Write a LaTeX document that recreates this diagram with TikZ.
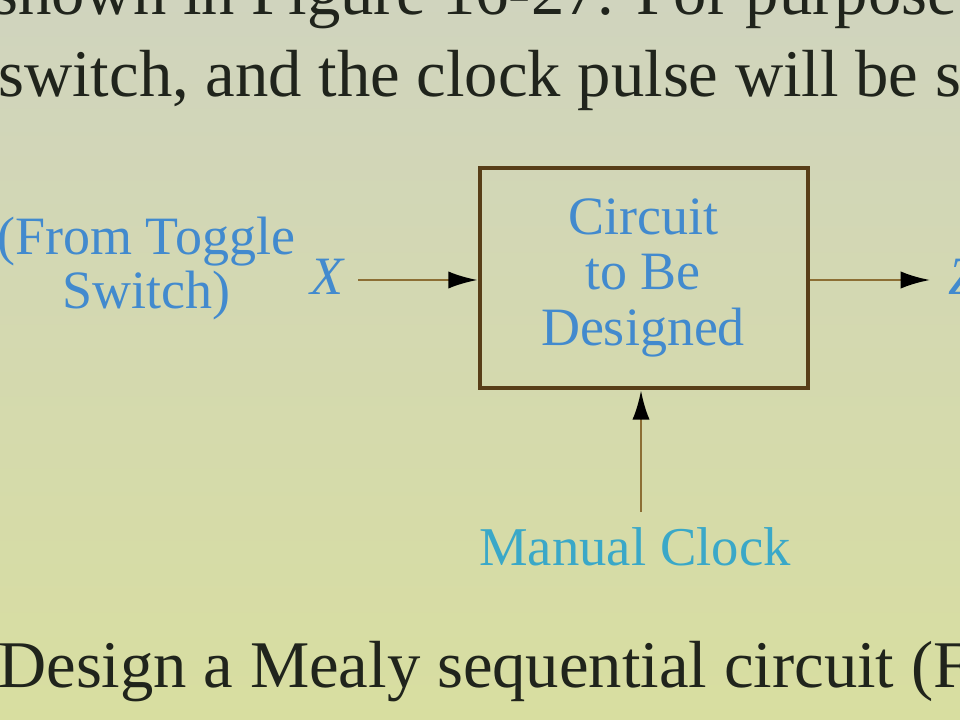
\documentclass[tikz,border=0pt]{standalone}
\usepackage{fontspec}
\setmainfont{Liberation Serif}
\usetikzlibrary{arrows.meta}
\definecolor{bgtop}{RGB}{208,212,190}
\definecolor{bgmid}{RGB}{220,224,192}
\definecolor{bgbot}{RGB}{216,222,160}
\definecolor{inkblk}{RGB}{32,36,28}
\definecolor{inkblue}{RGB}{66,138,206}
\definecolor{inkcyan}{RGB}{58,168,200}
\definecolor{boxbrown}{RGB}{88,62,24}
\definecolor{wirebrown}{RGB}{140,110,52}
\tikzset{
  pagetext/.style={anchor=base west, inner sep=0pt, text=inkblk, font=\fontsize{50}{60}\selectfont},
  bluetext/.style={inner sep=0pt, text=inkblue, font=\fontsize{40.5}{48}\selectfont},
  cyantext/.style={inner sep=0pt, text=inkcyan, font=\fontsize{41}{48}\selectfont},
  blockbox/.style={draw=boxbrown, line width=3.6pt, minimum width=246pt, minimum height=165pt, inner sep=0pt},
  sig/.style={draw=wirebrown, line width=2pt, -{Latex[length=22pt,width=13pt,color=black]}}
}
\begin{document}
\begin{tikzpicture}[x=0.75pt,y=-0.75pt]
\useasboundingbox (0,0) rectangle (960,720);
\clip (0,0) rectangle (960,720);
\shade[top color=bgtop, middle color=bgmid, bottom color=bgbot] (0,0) rectangle (960,720);
% page text
\node[pagetext] (t1) at (-8,15) {shown in Figure 16-27. For purpose};
\node[pagetext] (t2) at (-2,97) {switch, and the clock pulse will be s};
\node[pagetext] (t3) at (-2,687) {Design a Mealy sequential circuit (F};
% block
\node[blockbox] (box) at (644,278) {};
\node[bluetext, anchor=base] (c1) at (643,235) {Circuit};
\node[bluetext, anchor=base] (c2) at (643,290) {to Be};
\node[bluetext, anchor=base] (c3) at (643,345) {Designed};
% left labels
\node[bluetext, anchor=base west] (l1) at (-3,255) {(From Toggle};
\node[bluetext, anchor=base west] (l2) at (62,308) {Switch)};
\node[bluetext, anchor=base west] (xl) at (310,295) {\itshape X};
\node[bluetext, anchor=base west] (zl) at (948,295) {\itshape Z};
\node[cyantext, anchor=base] (mc) at (635,565) {Manual Clock};
% connectors
\coordinate (xin) at (358,280);
\coordinate (zout) at (930,280);
\coordinate (clk) at (641,512);
\draw[sig] (xin) -- (box.west |- xin);
\draw[sig] (box.east |- zout) -- (zout);
\draw[sig] (clk) -- (clk |- box.south);
\end{tikzpicture}
\end{document}
